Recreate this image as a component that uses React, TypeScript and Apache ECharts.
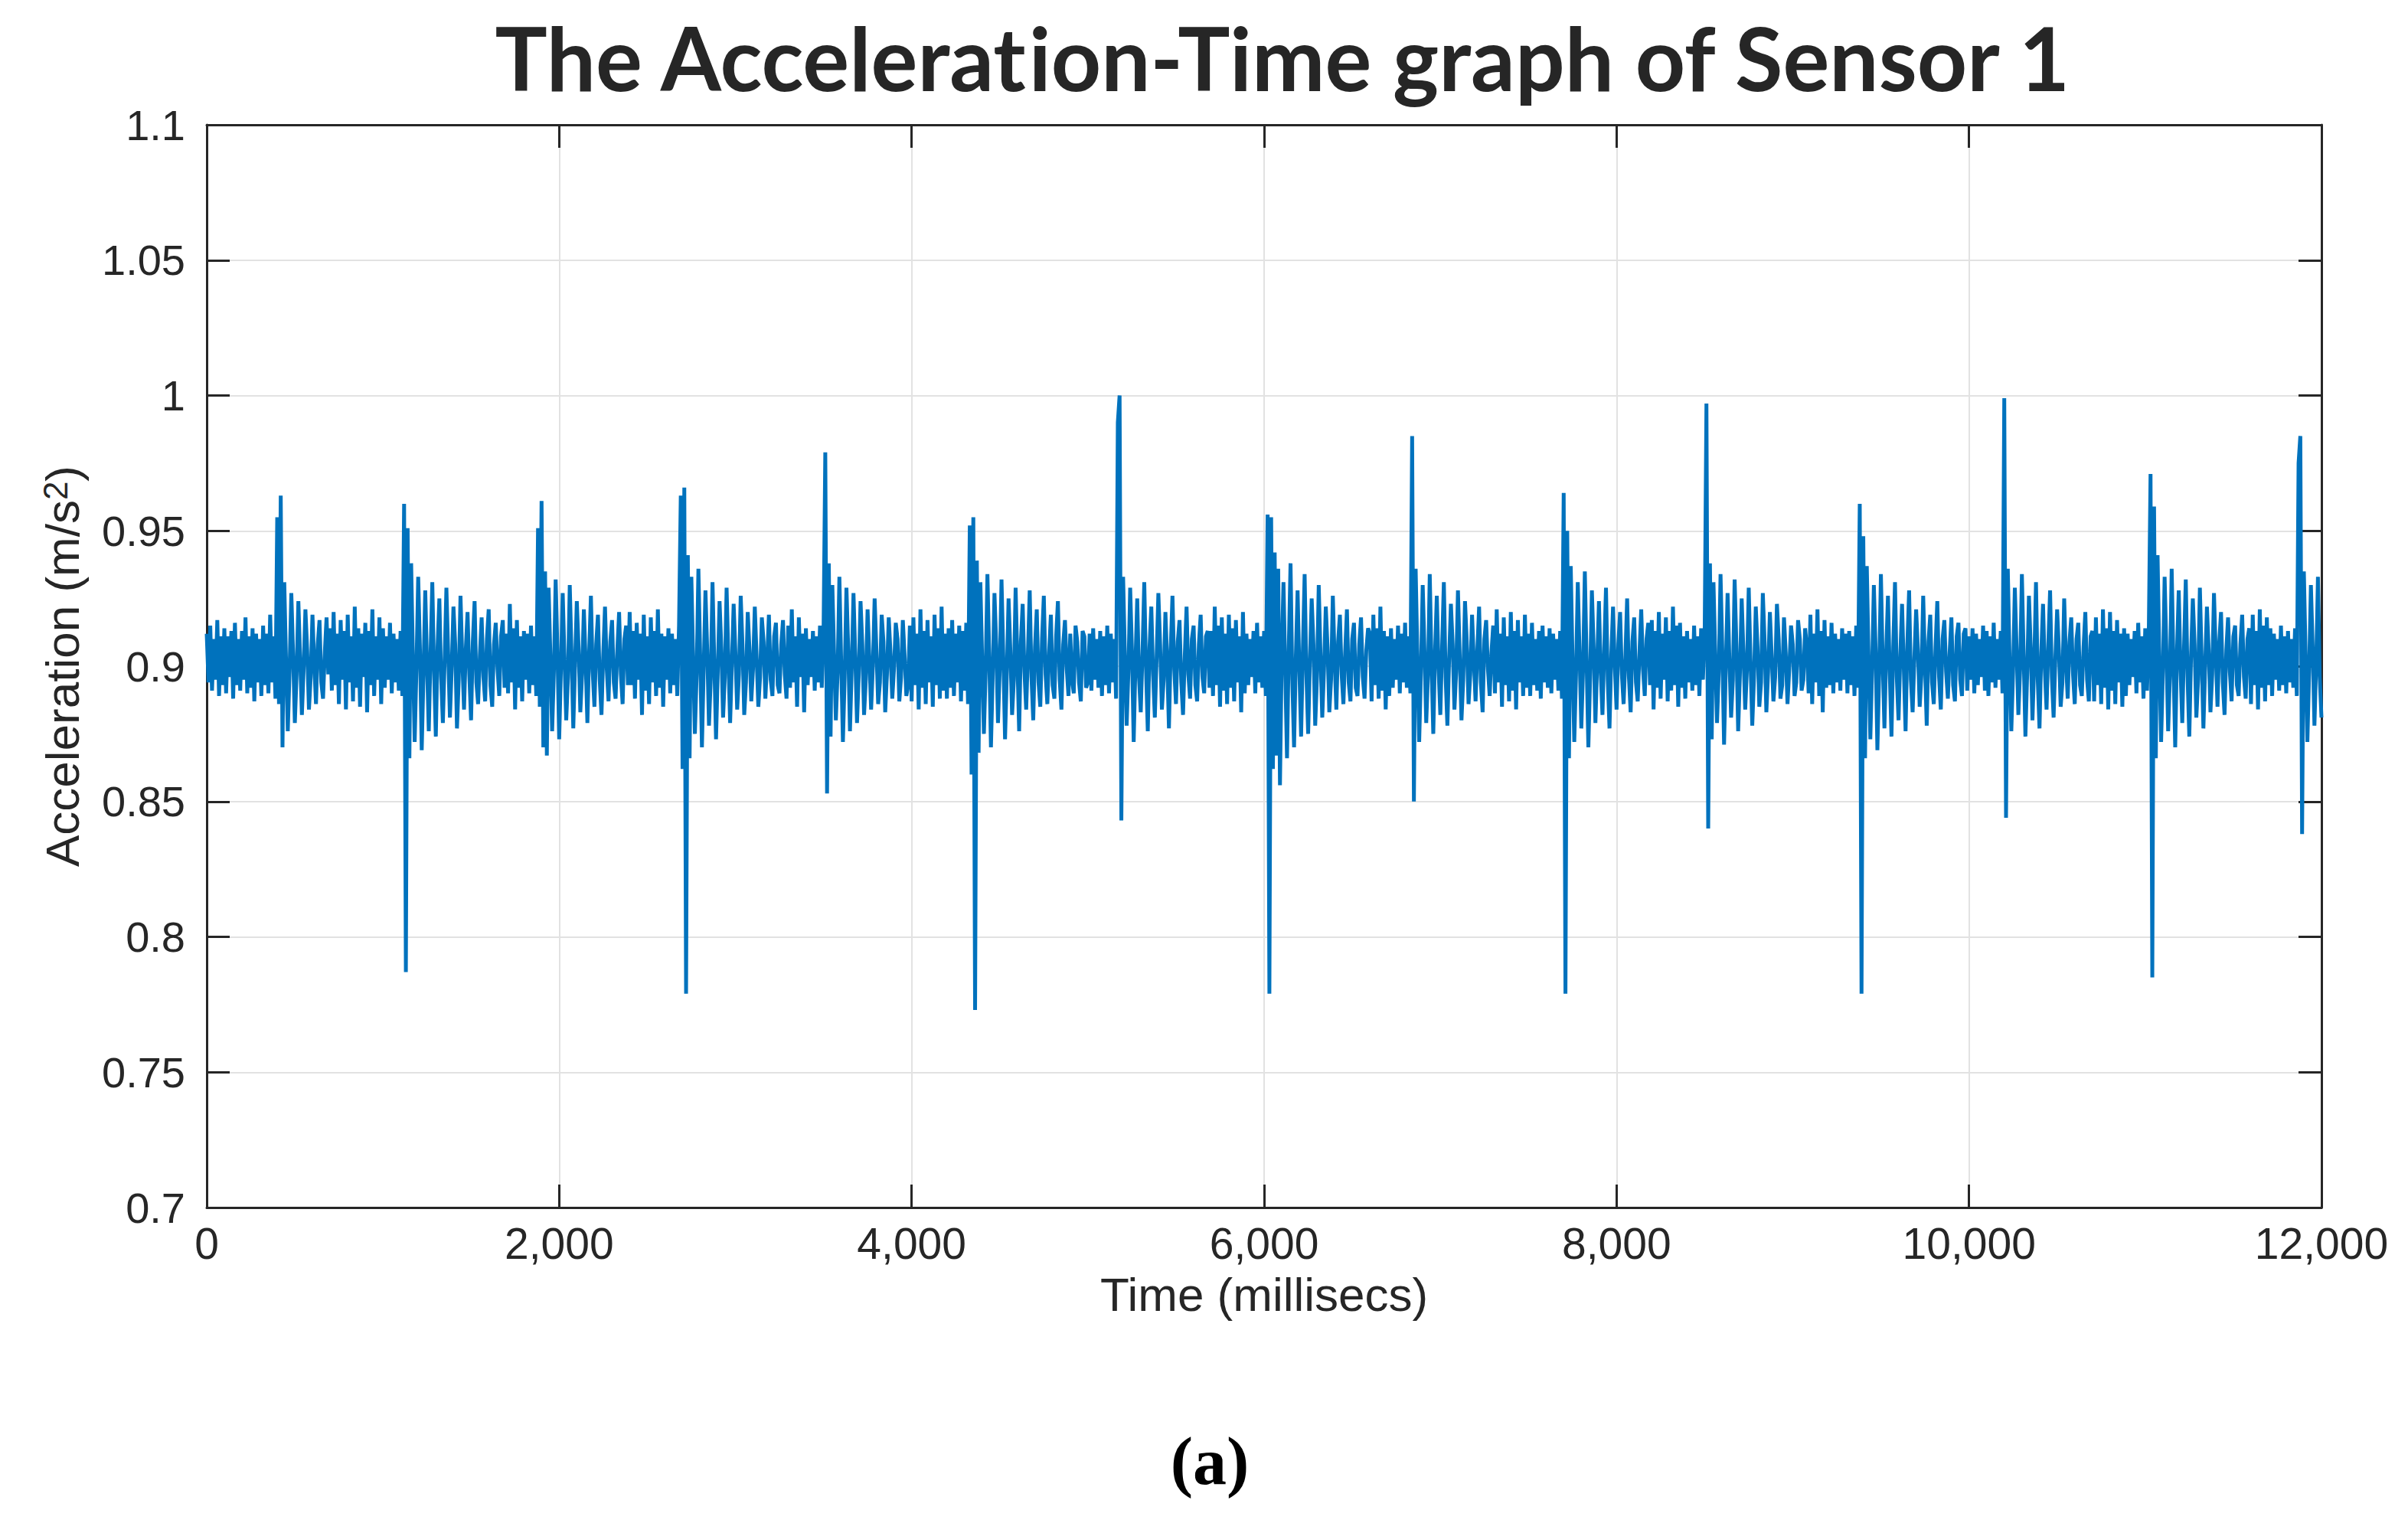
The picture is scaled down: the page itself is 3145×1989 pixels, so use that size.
import React, { useEffect, useRef } from "react";
import * as echarts from "echarts";

// Sampling interval of the sensor trace (ms)
const SAMPLE_MS = 10;

// Acceleration (m/s^2), one array per second of recording (100 samples each)
const sec00 = [
  0.912, 0.894, 0.915, 0.891, 0.910, 0.895, 0.917, 0.889, 0.911, 0.893,
  0.914, 0.890, 0.911, 0.896, 0.913, 0.888, 0.916, 0.893, 0.910, 0.891,
  0.913, 0.895, 0.918, 0.890, 0.911, 0.892, 0.914, 0.887, 0.912, 0.894,
  0.910, 0.889, 0.915, 0.893, 0.912, 0.890, 0.919, 0.894, 0.911, 0.888,
  0.955, 0.886, 0.963, 0.870, 0.931, 0.902, 0.876, 0.898, 0.927, 0.905,
  0.879, 0.897, 0.924, 0.903, 0.882, 0.899, 0.921, 0.906, 0.884, 0.896,
  0.919, 0.901, 0.886, 0.908, 0.917, 0.894, 0.888, 0.905, 0.918, 0.897,
  0.914, 0.891, 0.920, 0.893, 0.912, 0.886, 0.917, 0.895, 0.913, 0.884,
  0.919, 0.894, 0.911, 0.887, 0.922, 0.892, 0.914, 0.885, 0.912, 0.896,
  0.916, 0.883, 0.913, 0.893, 0.921, 0.889, 0.911, 0.895, 0.918, 0.886,
];
const sec01 = [
  0.914, 0.892, 0.911, 0.895, 0.916, 0.890, 0.912, 0.894, 0.910, 0.891,
  0.913, 0.889, 0.960, 0.787, 0.951, 0.866, 0.938, 0.903, 0.872, 0.899,
  0.933, 0.906, 0.869, 0.897, 0.928, 0.901, 0.876, 0.904, 0.931, 0.898,
  0.874, 0.907, 0.925, 0.896, 0.879, 0.902, 0.929, 0.905, 0.881, 0.899,
  0.922, 0.908, 0.877, 0.895, 0.926, 0.903, 0.884, 0.906, 0.920, 0.897,
  0.880, 0.909, 0.924, 0.894, 0.886, 0.904, 0.918, 0.896, 0.887, 0.910,
  0.921, 0.893, 0.885, 0.908, 0.916, 0.899, 0.889, 0.911, 0.917, 0.892,
  0.912, 0.890, 0.923, 0.894, 0.914, 0.884, 0.917, 0.892, 0.911, 0.887,
  0.913, 0.895, 0.912, 0.890, 0.915, 0.893, 0.911, 0.889, 0.951, 0.885,
  0.961, 0.870, 0.935, 0.867, 0.929, 0.904, 0.876, 0.898, 0.932, 0.906,
];
const sec02 = [
  0.873, 0.899, 0.927, 0.903, 0.880, 0.896, 0.930, 0.905, 0.877, 0.901,
  0.924, 0.907, 0.883, 0.897, 0.921, 0.902, 0.879, 0.905, 0.926, 0.898,
  0.885, 0.908, 0.919, 0.895, 0.882, 0.904, 0.922, 0.899, 0.887, 0.909,
  0.917, 0.894, 0.888, 0.906, 0.920, 0.897, 0.886, 0.910, 0.915, 0.893,
  0.920, 0.893, 0.913, 0.888, 0.916, 0.895, 0.912, 0.882, 0.919, 0.891,
  0.911, 0.886, 0.918, 0.894, 0.913, 0.889, 0.921, 0.892, 0.912, 0.885,
  0.911, 0.895, 0.914, 0.890, 0.912, 0.893, 0.910, 0.889, 0.915, 0.963,
  0.862, 0.966, 0.779, 0.941, 0.866, 0.933, 0.903, 0.875, 0.897, 0.936,
  0.904, 0.870, 0.899, 0.928, 0.906, 0.878, 0.895, 0.931, 0.902, 0.873,
  0.898, 0.924, 0.907, 0.881, 0.896, 0.929, 0.903, 0.879, 0.901, 0.923,
];
const sec03 = [
  0.905, 0.884, 0.897, 0.926, 0.908, 0.882, 0.894, 0.920, 0.906, 0.887,
  0.899, 0.922, 0.904, 0.885, 0.896, 0.918, 0.909, 0.888, 0.902, 0.919,
  0.895, 0.889, 0.911, 0.916, 0.893, 0.890, 0.908, 0.917, 0.897, 0.888,
  0.915, 0.892, 0.921, 0.894, 0.911, 0.885, 0.918, 0.896, 0.912, 0.883,
  0.914, 0.893, 0.910, 0.896, 0.913, 0.891, 0.911, 0.894, 0.915, 0.892,
  0.912, 0.979, 0.853, 0.938, 0.874, 0.930, 0.904, 0.880, 0.898, 0.933,
  0.902, 0.872, 0.896, 0.929, 0.907, 0.876, 0.899, 0.927, 0.904, 0.879,
  0.897, 0.924, 0.908, 0.882, 0.895, 0.921, 0.903, 0.884, 0.900, 0.925,
  0.906, 0.886, 0.894, 0.919, 0.909, 0.883, 0.897, 0.918, 0.905, 0.888,
  0.899, 0.916, 0.910, 0.887, 0.896, 0.917, 0.904, 0.889, 0.893, 0.915,
];
const sec04 = [
  0.887, 0.918, 0.893, 0.912, 0.884, 0.921, 0.892, 0.913, 0.886, 0.917,
  0.894, 0.911, 0.885, 0.919, 0.893, 0.914, 0.888, 0.922, 0.891, 0.912,
  0.888, 0.914, 0.892, 0.917, 0.889, 0.912, 0.894, 0.915, 0.887, 0.913,
  0.891, 0.916, 0.886, 0.952, 0.860, 0.955, 0.773, 0.939, 0.868, 0.931,
  0.903, 0.875, 0.898, 0.934, 0.905, 0.870, 0.896, 0.927, 0.908, 0.879,
  0.899, 0.932, 0.904, 0.873, 0.897, 0.925, 0.906, 0.882, 0.895, 0.929,
  0.902, 0.876, 0.909, 0.923, 0.898, 0.884, 0.905, 0.928, 0.896, 0.880,
  0.907, 0.921, 0.894, 0.885, 0.910, 0.926, 0.897, 0.886, 0.905, 0.919,
  0.893, 0.888, 0.911, 0.924, 0.895, 0.884, 0.908, 0.917, 0.899, 0.889,
  0.912, 0.895, 0.890, 0.915, 0.909, 0.894, 0.887, 0.913, 0.911, 0.892,
];
const sec05 = [
  0.894, 0.912, 0.891, 0.914, 0.895, 0.910, 0.892, 0.913, 0.889, 0.911,
  0.893, 0.915, 0.890, 0.912, 0.894, 0.910, 0.888, 0.990, 1.000, 0.843,
  0.933, 0.904, 0.878, 0.898, 0.929, 0.906, 0.872, 0.901, 0.925, 0.896,
  0.883, 0.905, 0.931, 0.899, 0.876, 0.907, 0.922, 0.897, 0.881, 0.903,
  0.927, 0.908, 0.884, 0.895, 0.920, 0.902, 0.877, 0.906, 0.926, 0.899,
  0.886, 0.909, 0.917, 0.894, 0.882, 0.904, 0.922, 0.897, 0.888, 0.910,
  0.915, 0.893, 0.887, 0.908, 0.919, 0.896, 0.890, 0.911, 0.913, 0.892,
  0.913, 0.889, 0.922, 0.893, 0.915, 0.885, 0.918, 0.891, 0.912, 0.886,
  0.919, 0.892, 0.914, 0.887, 0.917, 0.894, 0.911, 0.883, 0.920, 0.890,
  0.912, 0.893, 0.910, 0.896, 0.913, 0.890, 0.916, 0.894, 0.911, 0.892,
];
const sec06 = [
  0.913, 0.889, 0.956, 0.779, 0.955, 0.862, 0.942, 0.867, 0.936, 0.856,
  0.904, 0.931, 0.898, 0.866, 0.907, 0.938, 0.895, 0.870, 0.903, 0.928,
  0.899, 0.874, 0.906, 0.934, 0.897, 0.875, 0.902, 0.925, 0.908, 0.878,
  0.896, 0.930, 0.904, 0.881, 0.899, 0.922, 0.907, 0.883, 0.895, 0.926,
  0.903, 0.884, 0.909, 0.919, 0.897, 0.886, 0.905, 0.921, 0.894, 0.887,
  0.910, 0.916, 0.892, 0.889, 0.908, 0.918, 0.896, 0.888, 0.906, 0.914,
  0.912, 0.887, 0.919, 0.893, 0.914, 0.888, 0.922, 0.891, 0.913, 0.884,
  0.911, 0.889, 0.914, 0.892, 0.910, 0.895, 0.915, 0.890, 0.912, 0.894,
  0.916, 0.892, 0.911, 0.890, 0.985, 0.850, 0.936, 0.903, 0.872, 0.898,
  0.930, 0.906, 0.879, 0.897, 0.934, 0.901, 0.875, 0.905, 0.926, 0.899,
];
const sec07 = [
  0.882, 0.907, 0.931, 0.896, 0.878, 0.903, 0.923, 0.908, 0.884, 0.898,
  0.928, 0.904, 0.880, 0.895, 0.924, 0.909, 0.886, 0.897, 0.919, 0.902,
  0.887, 0.906, 0.922, 0.894, 0.883, 0.910, 0.917, 0.899, 0.889, 0.905,
  0.915, 0.890, 0.921, 0.894, 0.912, 0.885, 0.918, 0.893, 0.911, 0.887,
  0.920, 0.891, 0.913, 0.884, 0.917, 0.894, 0.911, 0.889, 0.919, 0.892,
  0.912, 0.889, 0.916, 0.893, 0.910, 0.891, 0.913, 0.888, 0.915, 0.894,
  0.911, 0.892, 0.914, 0.890, 0.912, 0.895, 0.910, 0.891, 0.913, 0.888,
  0.964, 0.779, 0.950, 0.866, 0.937, 0.903, 0.872, 0.897, 0.931, 0.905,
  0.877, 0.899, 0.935, 0.902, 0.870, 0.896, 0.928, 0.907, 0.879, 0.901,
  0.924, 0.898, 0.882, 0.906, 0.929, 0.895, 0.877, 0.904, 0.922, 0.900,
];
const sec08 = [
  0.884, 0.908, 0.920, 0.897, 0.886, 0.903, 0.925, 0.896, 0.883, 0.909,
  0.918, 0.894, 0.887, 0.905, 0.921, 0.899, 0.889, 0.910, 0.916, 0.893,
  0.917, 0.884, 0.913, 0.892, 0.920, 0.888, 0.912, 0.895, 0.918, 0.887,
  0.913, 0.891, 0.922, 0.893, 0.915, 0.885, 0.916, 0.892, 0.911, 0.888,
  0.913, 0.894, 0.910, 0.891, 0.915, 0.893, 0.911, 0.889, 0.914, 0.895,
  0.912, 0.997, 0.840, 0.938, 0.873, 0.931, 0.904, 0.879, 0.898, 0.934,
  0.906, 0.871, 0.900, 0.927, 0.903, 0.881, 0.895, 0.932, 0.908, 0.876,
  0.897, 0.925, 0.905, 0.884, 0.899, 0.929, 0.902, 0.878, 0.896, 0.922,
  0.907, 0.885, 0.894, 0.927, 0.909, 0.883, 0.898, 0.920, 0.904, 0.887,
  0.896, 0.923, 0.910, 0.888, 0.893, 0.918, 0.905, 0.886, 0.899, 0.915,
];
const sec09 = [
  0.908, 0.889, 0.894, 0.917, 0.910, 0.891, 0.895, 0.914, 0.907, 0.890,
  0.919, 0.886, 0.912, 0.894, 0.921, 0.889, 0.913, 0.883, 0.917, 0.892,
  0.911, 0.893, 0.916, 0.890, 0.912, 0.894, 0.910, 0.891, 0.914, 0.895,
  0.912, 0.890, 0.913, 0.893, 0.911, 0.889, 0.915, 0.892, 0.960, 0.779,
  0.948, 0.866, 0.937, 0.903, 0.873, 0.899, 0.930, 0.906, 0.869, 0.897,
  0.934, 0.902, 0.877, 0.905, 0.926, 0.898, 0.874, 0.907, 0.931, 0.896,
  0.880, 0.904, 0.923, 0.899, 0.876, 0.908, 0.928, 0.895, 0.883, 0.903,
  0.921, 0.906, 0.885, 0.897, 0.926, 0.901, 0.878, 0.909, 0.919, 0.894,
  0.886, 0.907, 0.924, 0.896, 0.884, 0.910, 0.917, 0.898, 0.888, 0.905,
  0.918, 0.893, 0.887, 0.911, 0.916, 0.895, 0.889, 0.912, 0.914, 0.891,
];
const sec10 = [
  0.911, 0.895, 0.914, 0.890, 0.912, 0.893, 0.910, 0.896, 0.915, 0.891,
  0.913, 0.889, 0.911, 0.894, 0.916, 0.892, 0.910, 0.895, 0.913, 0.890,
  0.999, 0.844, 0.936, 0.903, 0.876, 0.898, 0.929, 0.906, 0.882, 0.899,
  0.934, 0.904, 0.874, 0.897, 0.926, 0.907, 0.880, 0.901, 0.931, 0.895,
  0.877, 0.905, 0.923, 0.899, 0.884, 0.908, 0.928, 0.896, 0.881, 0.903,
  0.921, 0.906, 0.885, 0.894, 0.925, 0.902, 0.888, 0.909, 0.918, 0.897,
  0.886, 0.910, 0.916, 0.893, 0.889, 0.907, 0.920, 0.895, 0.887, 0.911,
  0.913, 0.887, 0.918, 0.893, 0.912, 0.886, 0.921, 0.892, 0.914, 0.884,
  0.920, 0.891, 0.913, 0.886, 0.917, 0.894, 0.912, 0.885, 0.914, 0.889,
  0.912, 0.893, 0.910, 0.896, 0.913, 0.890, 0.916, 0.894, 0.911, 0.888,
];
const sec11 = [
  0.914, 0.891, 0.912, 0.971, 0.785, 0.959, 0.866, 0.941, 0.903, 0.872,
  0.898, 0.933, 0.906, 0.876, 0.897, 0.936, 0.901, 0.870, 0.905, 0.928,
  0.899, 0.879, 0.907, 0.932, 0.896, 0.874, 0.904, 0.925, 0.908, 0.881,
  0.895, 0.929, 0.903, 0.877, 0.900, 0.922, 0.906, 0.883, 0.897, 0.927,
  0.905, 0.885, 0.909, 0.920, 0.894, 0.882, 0.906, 0.918, 0.898, 0.887,
  0.911, 0.915, 0.893, 0.889, 0.908, 0.919, 0.896, 0.888, 0.910, 0.914,
  0.886, 0.919, 0.893, 0.913, 0.884, 0.921, 0.892, 0.915, 0.887, 0.918,
  0.893, 0.914, 0.889, 0.912, 0.895, 0.910, 0.891, 0.915, 0.893, 0.911,
  0.890, 0.913, 0.894, 0.910, 0.892, 0.914, 0.889, 0.975, 0.985, 0.838,
  0.935, 0.904, 0.872, 0.898, 0.930, 0.907, 0.878, 0.901, 0.933, 0.896,
];
const lastSample = [0.881];

// Axis settings / labels
const X_MIN = 0;
const X_MAX = 12000;
const X_STEP = 2000;
const Y_MIN = 0.7;
const Y_MAX = 1.1;
const Y_STEP = 0.05;

const TITLE = "The Acceleration-Time graph of Sensor 1";
const X_NAME = "Time (millisecs)";
const Y_NAME_MAIN = "Acceleration (m/s";
const Y_NAME_SUP = "2";
const CAPTION = "(a)";

const acceleration: number[] = [
  ...sec00, ...sec01, ...sec02, ...sec03, ...sec04, ...sec05,
  ...sec06, ...sec07, ...sec08, ...sec09, ...sec10, ...sec11, ...lastSample,
];
const seriesData = acceleration.map((v, i) => [i * SAMPLE_MS, v]);

const AXIS_COLOR = "#262626";
const GRID_COLOR = "#e2e2e2";
const LINE_COLOR = "#0072BD";
const SANS = '"Liberation Sans", Arial, Helvetica, sans-serif';

// The title is split in two rich-text runs between "t" and "i" so that the
// font's "ti" ligature is not applied (the reference shows separate letters).
const TITLE_SPLIT = TITLE.indexOf("tion") + 1;
const TITLE_RICH = `{t|${TITLE.slice(0, TITLE_SPLIT)}}{t|${TITLE.slice(TITLE_SPLIT)}}`;

export default function App() {
  const ref = useRef<HTMLDivElement>(null);

  useEffect(() => {
    document.body.style.margin = "0";
    const chart = echarts.init(ref.current as HTMLDivElement, null, { renderer: "svg" });

    const axisLine = { show: true, onZero: false, lineStyle: { color: AXIS_COLOR, width: 3 } };
    const axisTick = { show: true, inside: true, length: 30, lineStyle: { color: AXIS_COLOR, width: 3 } };

    const titleFont = {
      fill: "#262626",
      fontSize: 114,
      fontWeight: "bold",
      fontFamily: 'Lato, "Open Sans", sans-serif',
    };

    const option: any = {
      animation: false,
      backgroundColor: "#ffffff",
      grid: { left: 270, right: 113, top: 163, bottom: 412, containLabel: false },
      xAxis: [
        {
          type: "value",
          position: "bottom",
          min: X_MIN,
          max: X_MAX,
          interval: X_STEP,
          axisLine,
          axisTick,
          axisLabel: {
            margin: 18,
            fontSize: 57,
            color: AXIS_COLOR,
            fontFamily: SANS,
            formatter: (v: number) => v.toLocaleString("en-US"),
          },
          splitLine: { show: true, lineStyle: { color: GRID_COLOR, width: 2 } },
          name: X_NAME,
          nameLocation: "middle",
          nameGap: 82,
          nameTextStyle: { fontSize: 62, color: AXIS_COLOR, fontFamily: SANS },
        },
        {
          type: "value",
          position: "top",
          min: X_MIN,
          max: X_MAX,
          interval: X_STEP,
          axisLine,
          axisTick,
          axisLabel: { show: false },
          splitLine: { show: false },
        },
      ],
      yAxis: [
        {
          type: "value",
          position: "left",
          min: Y_MIN,
          max: Y_MAX,
          interval: Y_STEP,
          axisLine,
          axisTick,
          axisLabel: {
            margin: 28,
            fontSize: 56,
            color: AXIS_COLOR,
            fontFamily: SANS,
            formatter: (v: number) => String(Math.round(v * 100) / 100),
          },
          splitLine: { show: true, lineStyle: { color: GRID_COLOR, width: 2 } },
          name: `{n|${Y_NAME_MAIN}}{s|${Y_NAME_SUP}}{n|)}`,
          nameLocation: "middle",
          nameRotate: 90,
          nameGap: 158,
          nameTextStyle: {
            rich: {
              n: { fontSize: 62, color: AXIS_COLOR, fontFamily: SANS },
              s: { fontSize: 44, color: AXIS_COLOR, fontFamily: SANS, verticalAlign: "top" },
            },
          },
        },
        {
          type: "value",
          position: "right",
          min: Y_MIN,
          max: Y_MAX,
          interval: Y_STEP,
          axisLine,
          axisTick,
          axisLabel: { show: false },
          splitLine: { show: false },
        },
      ],
      series: [
        {
          type: "line",
          xAxisIndex: 0,
          yAxisIndex: 0,
          data: seriesData,
          symbol: "none",
          showSymbol: false,
          lineStyle: { color: LINE_COLOR, width: 5, join: "miter" },
          itemStyle: { color: LINE_COLOR },
          z: 3,
        },
      ],
      graphic: [
        {
          type: "text",
          x: 1675,
          y: 74,
          style: {
            text: TITLE_RICH,
            ...titleFont,
            rich: {
              t: { ...titleFont, color: "#262626" },
            },
            align: "center",
            verticalAlign: "middle",
            textAlign: "center",
            textVerticalAlign: "middle",
          },
        },
        {
          type: "text",
          x: 1580,
          y: 1908,
          style: {
            text: CAPTION,
            fill: "#000000",
            fontSize: 88,
            fontWeight: "bold",
            fontFamily: '"Liberation Serif", "Times New Roman", serif',
            align: "center",
            verticalAlign: "middle",
            textAlign: "center",
            textVerticalAlign: "middle",
          },
        },
      ],
    };

    chart.setOption(option);
    return () => chart.dispose();
  }, []);

  return (
    <>
      <style>
        {
          "svg text, svg tspan { font-variant-ligatures: none !important; font-feature-settings: 'liga' 0, 'clig' 0 !important; }"
        }
      </style>
      <div ref={ref} style={{ width: 3145, height: 1989, background: "#ffffff" }} />
    </>
  );
}
